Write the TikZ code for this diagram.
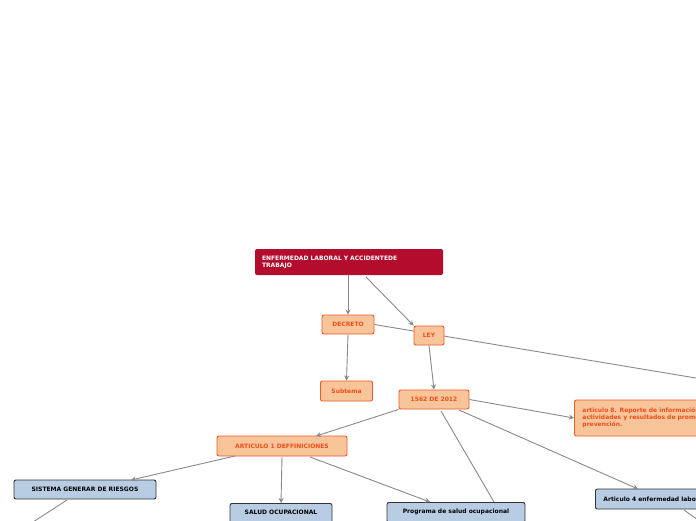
\documentclass[tikz,border=0pt]{standalone}
\usepackage{fontspec}
\setmainfont{DejaVu Sans}
\usetikzlibrary{arrows.meta}
\definecolor{rootc}{HTML}{B30C2C}
\definecolor{ofill}{HTML}{F8C49A}
\definecolor{oline}{HTML}{F05A28}
\definecolor{otext}{HTML}{F04E1A}
\definecolor{bfill}{HTML}{B8CCE4}
\definecolor{edgec}{HTML}{8A8A8A}
\begin{document}
\begin{tikzpicture}[x=1pt,y=-1pt,
  base/.style={rounded corners=2pt,font=\bfseries\fontsize{6}{7.2}\selectfont,inner sep=0pt,line width=0.9pt},
  onode/.style={base,draw=oline,fill=ofill,text=otext,align=center},
  bnode/.style={base,draw=black!80,fill=bfill,text=black,align=center},
  rnode/.style={base,fill=rootc,text=white,align=left,text width=174,font=\bfseries\fontsize{6}{7.2}\selectfont},
  con/.style={draw=edgec,line width=0.9pt,-{Stealth[length=5pt,width=5pt]}},
  lin/.style={draw=edgec,line width=0.9pt}]
\fill[white] (0,0) rectangle (696,520);
\clip (0,0) rectangle (696,520);
\node[rnode,minimum width=188,minimum height=26] (root) at (349,262) {ENFERMEDAD LABORAL Y ACCIDENTEDE\\TRABAJO};
\node[onode,minimum width=52,minimum height=19] (dec) at (348,324.5) {DECRETO};
\node[onode,minimum width=52,minimum height=20] (sub) at (346.5,391) {Subtema};
\node[onode,minimum width=70,minimum height=19] (l1562) at (434,399.5) {1562 DE 2012};
\node[onode,minimum width=130,minimum height=20] (art1) at (282,446) {ARTICULO 1 DEFFINICIONES};
\node[onode,inner xsep=8pt,minimum height=36,align=left,anchor=west] (art8) at (574,418) {articulo 8. Reporte de información de\\actividades y resultados de promoción y\\prevención.};
\node[bnode,minimum width=142,minimum height=19] (sis) at (85,489.5) {SISTEMA GENERAR DE RIESGOS};
\node[bnode,minimum width=102,minimum height=20,anchor=north] (sal) at (281,503) {SALUD OCUPACIONAL\strut};
\node[bnode,minimum width=138,minimum height=20,anchor=north] (prog) at (456,502) {Programa de salud ocupacional\strut};
\node[bnode,inner xsep=8pt,minimum height=20,anchor=west] (a4) at (595,499) {Articulo 4 enfermedad laboral};
\coordinate (offA) at (720,382);
\coordinate (offB) at (30,524);
\coordinate (offC) at (705,525);
\draw[lin] (dec.east) -- (offA);
\node[onode,minimum width=30,minimum height=19] (ley) at (429,335.5) {LEY};
\draw[con] (root.south -| dec) -- (dec.north);
\draw[con] (366,277) -- (ley.north west);
\draw[con] (dec.south) -- (sub.north);
\draw[con] (ley.south) -- (l1562.north);
\draw[con] (l1562.east) -- (art8.west);
\draw[con] (l1562.south west) -- (316,436);
\draw[lin] (441,411) -- (494,502);
\draw[con] (459,410) -- (638,489);
\draw[con] (235,456) -- (131,480);
\draw[con] (282,457) -- (sal.north);
\draw[con] (310,457) -- (430,502);
\draw[lin] (67,500) -- (offB);
\draw[lin] (684,510) -- (offC);
\end{tikzpicture}
\end{document}
